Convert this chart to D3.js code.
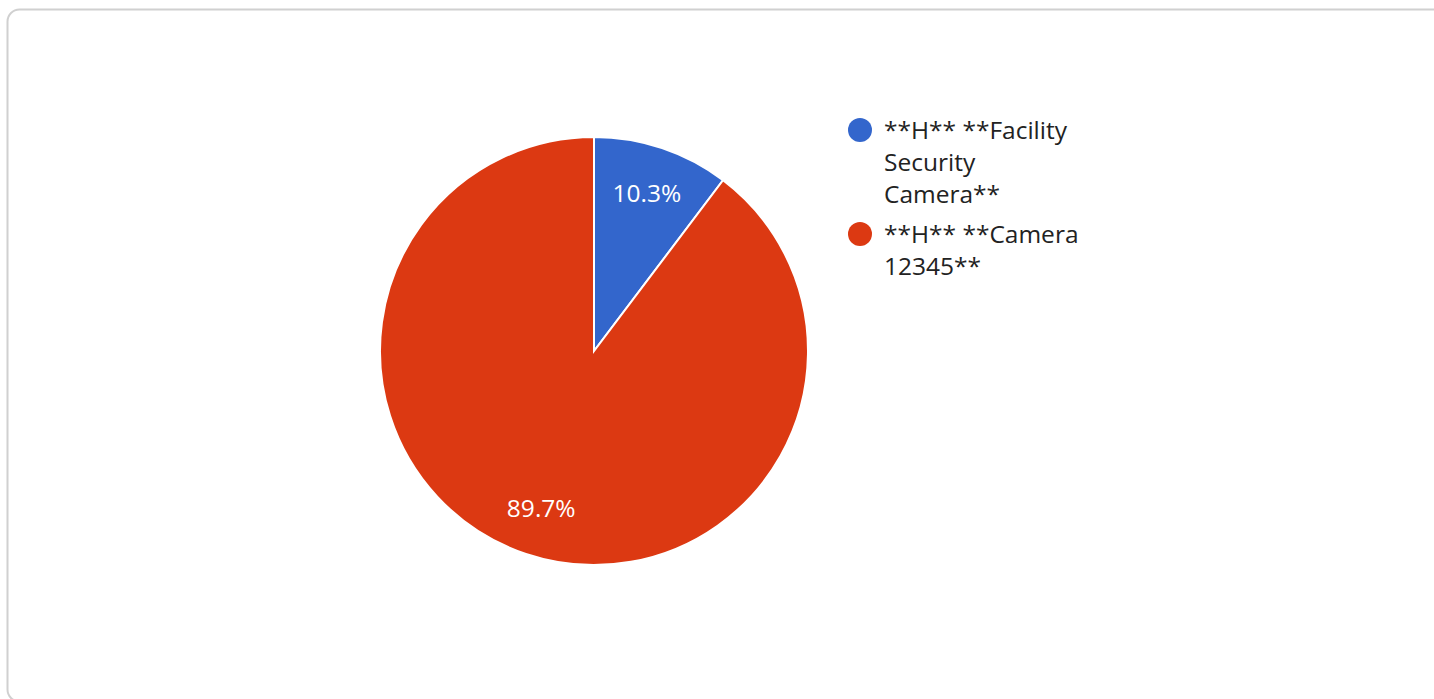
<!DOCTYPE html>
<html>
<head>
<meta charset="utf-8">
<script src="https://cdn.jsdelivr.net/npm/d3@7"></script>
<style>
  html, body { margin: 0; padding: 0; background: #fff; overflow: hidden; }
  svg { display: block; font-family: "Open Sans", "Noto Sans", sans-serif; }
</style>
</head>
<body>
<svg id="chart" width="1434" height="699"></svg>
<script>
const labels = ["**H** **Facility Security Camera**", "**H** **Camera 12345**"];
const values = [10.3, 89.7];
const colors = ["#3366cc", "#dc3912"];

const svg = d3.select("#chart");

// card frame
svg.append("rect")
  .attr("x", 7.5).attr("y", 9.5)
  .attr("width", 1450).attr("height", 692)
  .attr("rx", 12).attr("ry", 12)
  .attr("fill", "#fff")
  .attr("stroke", "#d0d0d0")
  .attr("stroke-width", 2);

const cx = 594, cy = 351, radius = 214;
const fontSize = 24.5;

const pie = d3.pie().sort(null).value(d => d);
const arcs = pie(values);
const arc = d3.arc().innerRadius(0).outerRadius(radius);
const labelArc = d3.arc().innerRadius(166).outerRadius(166);

const g = svg.append("g").attr("transform", `translate(${cx},${cy})`);

g.selectAll("path")
  .data(arcs)
  .join("path")
  .attr("d", arc)
  .attr("fill", (d, i) => colors[i])
  .attr("stroke", "#fff")
  .attr("stroke-width", 2);

g.selectAll("text")
  .data(arcs)
  .join("text")
  .attr("transform", d => `translate(${labelArc.centroid(d)})`)
  .attr("text-anchor", "middle")
  .attr("dy", "0.35em")
  .attr("fill", "#fff")
  .attr("font-size", fontSize)
  .text(d => d.data.toFixed(1) + "%");

// legend
const legend = svg.append("g").attr("transform", "translate(860,130)");
const lineH = 32, gap = 8, maxW = 200;
let y = 0;
labels.forEach((lab, i) => {
  legend.append("circle")
    .attr("cx", 0).attr("cy", y).attr("r", 12)
    .attr("fill", colors[i]);
  const t = legend.append("text")
    .attr("x", 24).attr("y", y)
    .attr("font-size", fontSize)
    .attr("fill", "#222");
  const words = lab.split(" ");
  let line = [];
  let n = 0;
  let ts = t.append("tspan").attr("x", 24).attr("y", y).attr("dy", "0.35em");
  words.forEach(w => {
    line.push(w);
    ts.text(line.join(" "));
    if (ts.node().getComputedTextLength() > maxW && line.length > 1) {
      line.pop();
      ts.text(line.join(" "));
      line = [w];
      n++;
      ts = t.append("tspan").attr("x", 24).attr("y", y + n * lineH).attr("dy", "0.35em").text(w);
    }
  });
  y += (n + 1) * lineH + gap;
});
</script>
</body>
</html>
